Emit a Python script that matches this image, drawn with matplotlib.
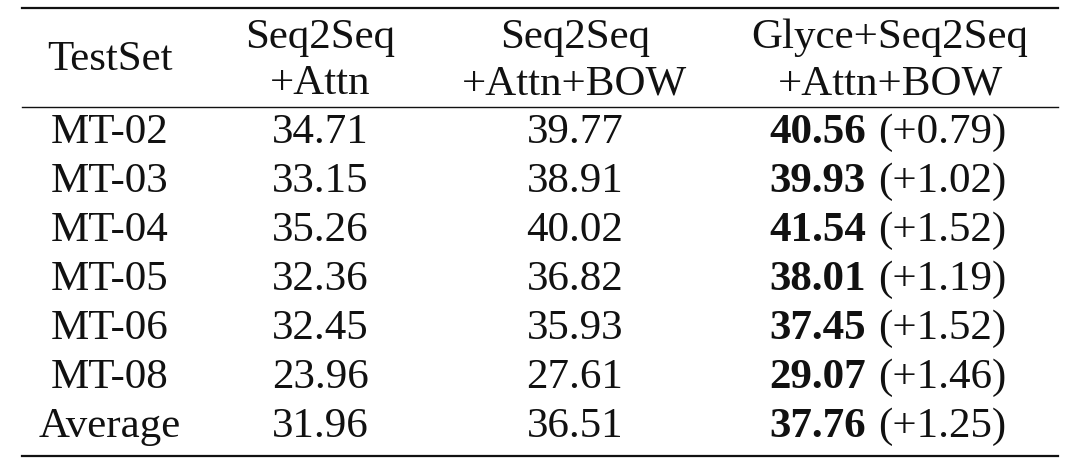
import matplotlib.pyplot as plt

headers = [["TestSet"], ["Seq2Seq", "+Attn"], ["Seq2Seq", "+Attn+BOW"], ["Glyce+Seq2Seq", "+Attn+BOW"]]
testsets = ["MT-02", "MT-03", "MT-04", "MT-05", "MT-06", "MT-08", "Average"]
attn = ["34.71", "33.15", "35.26", "32.36", "32.45", "23.96", "31.96"]
attn_bow = ["39.77", "38.91", "40.02", "36.82", "35.93", "27.61", "36.51"]
glyce = ["40.56", "39.93", "41.54", "38.01", "37.45", "29.07", "37.76"]
gain = ["(+0.79)", "(+1.02)", "(+1.52)", "(+1.19)", "(+1.52)", "(+1.46)", "(+1.25)"]

plt.rcParams['font.family'] = ['Liberation Serif', 'DejaVu Serif']
fs = 31
color = '#111111'

fig = plt.figure(figsize=(10.8, 4.72), dpi=100)
ax = fig.add_axes([0, 0, 1, 1])
ax.set_xlim(0, 1080)
ax.set_ylim(472, 0)
ax.axis('off')

col_x = [110, 320, 575, 890]

# rules
ax.plot([22, 1058], [8, 8], color=color, lw=1.6)
ax.plot([22, 1058], [107, 107], color=color, lw=1.0)
ax.plot([22, 1058], [456, 456], color=color, lw=1.6)

# header
for x, lines in zip(col_x, headers):
    if len(lines) == 1:
        ax.text(x, 60, lines[0], ha='center', va='center', fontsize=fs, color=color)
    else:
        ax.text(x, 38, lines[0], ha='center', va='center', fontsize=fs, color=color)
        ax.text(x, 84, lines[1], ha='center', va='center', fontsize=fs, color=color)

# body
for i in range(len(testsets)):
    y = 133 + i * 49
    ax.text(col_x[0], y, testsets[i], ha='center', va='center', fontsize=fs, color=color)
    ax.text(col_x[1], y, attn[i], ha='center', va='center', fontsize=fs, color=color)
    ax.text(col_x[2], y, attn_bow[i], ha='center', va='center', fontsize=fs, color=color)
    ax.text(866, y, glyce[i], ha='right', va='center', fontsize=fs, color=color, fontweight='bold')
    ax.text(878, y, gain[i], ha='left', va='center', fontsize=fs, color=color)

fig.savefig('out.png', dpi=100)
